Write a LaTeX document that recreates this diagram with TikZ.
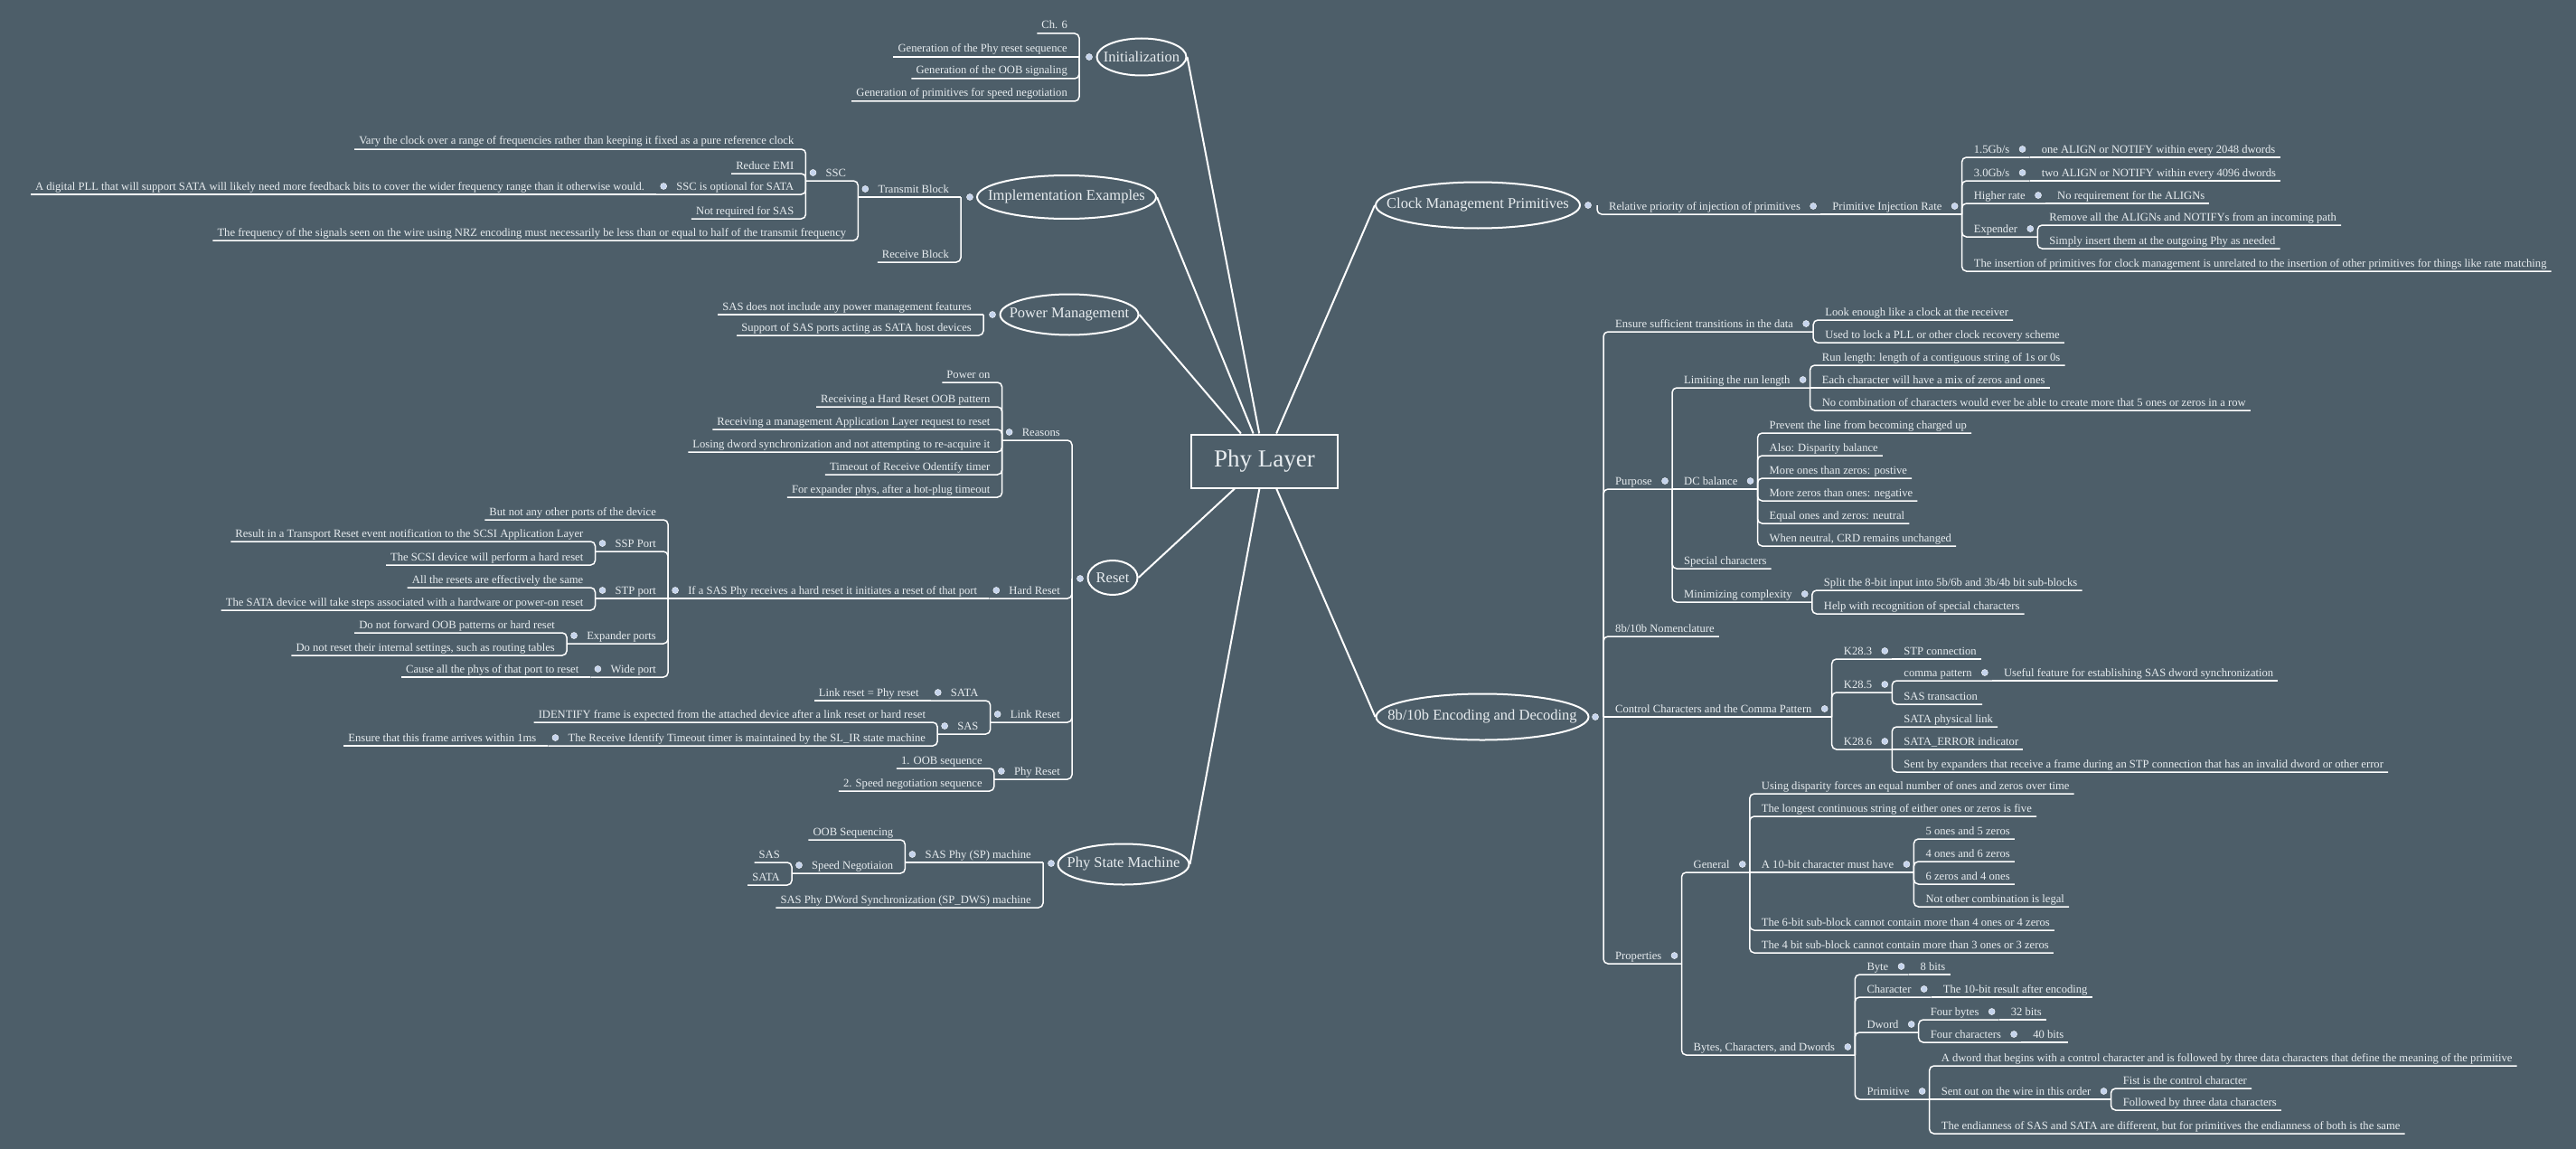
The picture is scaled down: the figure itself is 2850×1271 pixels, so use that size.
\documentclass[tikz,border=0pt]{standalone}
\usepackage{fontspec}
\setmainfont{Liberation Serif}
\usetikzlibrary{shapes.geometric,calc}
\definecolor{bg}{HTML}{4D5E69}
\definecolor{txt}{HTML}{E8EDF0}
\definecolor{dotc}{HTML}{C4D3EC}
\newcommand\setY[2]{\expandafter\def\csname yv@#1\endcsname{#2}}
\newcommand\Mconn[3]{\coordinate (tmp) at (0,#2);%
 \ifdim\csname yv@#1\endcsname pt=#2pt \draw[ul] (#1-j) -- #3;%
 \else \draw[ul] (#1-j) -- (#1-j |- tmp) -- #3;\fi}
% right leaf / intermediate
\newcommand\RL[4]{\coordinate (tmp) at (0,#3);%
 \node[lbl,anchor=base west] (#1) at ($(#2-j |- tmp)+(12pt,5pt)$) {#4};%
 \Mconn{#2}{#3}{($(#1.east |- tmp)+(4pt,0)$)}}
\newcommand\RI[4]{\coordinate (tmp) at (0,#3);%
 \node[lbl,anchor=base west] (#1) at ($(#2-j |- tmp)+(12pt,5pt)$) {#4};%
 \coordinate (#1-j) at ($(#1.east |- tmp)+(21pt,0)$);%
 \node[dotst] (#1-d) at ($(#1.east |- tmp)+(13pt,9pt)$) {};%
 \Mconn{#2}{#3}{(#1-j)}\setY{#1}{#3}}
% left leaf / intermediate
\newcommand\LL[4]{\coordinate (tmp) at (0,#3);%
 \node[lbl,anchor=base east] (#1) at ($(#2-j |- tmp)+(-12pt,5pt)$) {#4};%
 \Mconn{#2}{#3}{($(#1.west |- tmp)+(-4pt,0)$)}}
\newcommand\LI[4]{\coordinate (tmp) at (0,#3);%
 \node[lbl,anchor=base east] (#1) at ($(#2-j |- tmp)+(-12pt,5pt)$) {#4};%
 \coordinate (#1-j) at ($(#1.west |- tmp)+(-21pt,0)$);%
 \node[dotst] (#1-d) at ($(#1.west |- tmp)+(-13pt,9pt)$) {};%
 \Mconn{#2}{#3}{(#1-j)}\setY{#1}{#3}}
\tikzset{
 lbl/.style={text=txt,font=\fontsize{12.6}{14}\selectfont,inner sep=1pt},
 ul/.style={draw=white,line width=1.5pt,rounded corners=5pt},
 ml/.style={draw=white,line width=2pt},
 dotst/.style={circle,fill=dotc,draw=white!80!dotc,line width=0.5pt,inner sep=0pt,minimum size=7pt},
 ell/.style={ellipse,draw=white,line width=2pt,inner sep=0pt},
 etxt/.style={text=txt,font=\fontsize{16.5}{18}\selectfont,inner sep=0pt},
}
\begin{document}
\begin{tikzpicture}[x=1pt,y=-1pt]
\fill[bg] (0,0) rectangle (2850,1271);
\useasboundingbox (0,0) rectangle (2850,1271);
% central
\node[draw=white,line width=2pt,fill=bg,minimum width=162pt,minimum height=59pt,inner sep=0pt,text=txt,font=\fontsize{27}{30}\selectfont] (phy) at (1399,510) {Phy Layer};
% main ellipses
\node[ell,minimum width=99pt,minimum height=41pt] (init) at (1263,63) {};
\node[etxt] (initt) at (init) {Initialization};
\node[ell,minimum width=198pt,minimum height=48pt] (impl) at (1180,218) {};
\node[etxt] (implt) at (impl) {Implementation Examples};
\node[ell,minimum width=153pt,minimum height=45pt] (power) at (1183,348) {};
\node[etxt] (powert) at (power) {Power Management};
\node[ell,minimum width=55pt,minimum height=38pt] (reset) at (1231,639) {};
\node[etxt] (resett) at (reset) {Reset};
\node[ell,minimum width=145pt,minimum height=45pt] (psm) at (1243,956) {};
\node[etxt] (psmt) at (psm) {Phy State Machine};
\node[ell,minimum width=226pt,minimum height=51pt] (clock) at (1635,227) {};
\node[etxt] (clockt) at (clock) {Clock Management Primitives};
\node[ell,minimum width=235pt,minimum height=51pt] (enc) at (1640,793) {};
\node[etxt] (enct) at (enc) {8b/10b Encoding and Decoding};
\draw[ml] (phy) -- (init.east);
\draw[ml] (phy) -- (impl.east);
\draw[ml] (phy) -- (power.east);
\draw[ml] (phy) -- (reset.east);
\draw[ml] (phy) -- (psm.east);
\draw[ml] (phy) -- (clock.west);
\draw[ml] (phy) -- (enc.west);
% junctions and dots of main nodes
\coordinate (init-j) at (1194,63); \setY{init}{63} \node[dotst] (initd) at (1205,63) {};
\coordinate (impl-j) at (1063,218); \setY{impl}{218} \node[dotst] (impld) at (1073,218) {};
\coordinate (power-j) at (1088,348); \setY{power}{348} \node[dotst] (powerd) at (1098,348) {};
\coordinate (reset-j) at (1186,640); \setY{reset}{640} \node[dotst] (resetd) at (1195,640) {};
\coordinate (psm-j) at (1154,954); \setY{psm}{954} \node[dotst] (psmd) at (1163,955) {};
\coordinate (clock-j) at (1767,227); \setY{clock}{227} \node[dotst] (clockd) at (1757,227) {};
\coordinate (enc-j) at (1774,793); \setY{enc}{793} \node[dotst] (encd) at (1765,793) {};
% Initialization
\LL{i1}{init}{37}{Ch. 6}
\LL{i2}{init}{63}{Generation of the Phy reset sequence}
\LL{i3}{init}{87}{Generation of the OOB signaling}
\LL{i4}{init}{112}{Generation of primitives for speed negotiation}
% Implementation
\LI{tb}{impl}{218}{Transmit Block}
\LI{ssc}{tb}{200}{SSC}
\LL{ssc1}{ssc}{165}{Vary the clock over a range of frequencies rather than keeping it fixed as a pure reference clock}
\LL{ssc2}{ssc}{192}{Reduce EMI}
\LI{ssc3}{ssc}{215}{SSC is optional for SATA}
\LL{ssc3a}{ssc3}{215}{A digital PLL that will support SATA will likely need more feedback bits to cover the wider frequency range than it otherwise would.}
\LL{ssc4}{ssc}{242}{Not required for SAS}
\LL{tb2}{tb}{266}{The frequency of the signals seen on the wire using NRZ encoding must necessarily be less than or equal to half of the transmit frequency}
\LL{rb}{impl}{290}{Receive Block}
% Power
\LL{pw1}{power}{348}{SAS does not include any power management features}
\LL{pw2}{power}{371}{Support of SAS ports acting as SATA host devices}
% Reset
\LI{rea}{reset}{487}{Reasons}
\LL{rea1}{rea}{423}{Power on}
\LL{rea2}{rea}{450}{Receiving a Hard Reset OOB pattern}
\LL{rea3}{rea}{475}{Receiving a management Application Layer request to reset}
\LL{rea4}{rea}{500}{Losing dword synchronization and not attempting to re-acquire it}
\LL{rea5}{rea}{525}{Timeout of Receive Odentify timer}
\LL{rea6}{rea}{550}{For expander phys, after a hot-plug timeout}
\LI{hr}{reset}{662}{Hard Reset}
\LI{hra}{hr}{662}{If a SAS Phy receives a hard reset it initiates a reset of that port}
\LL{hr1}{hra}{575}{But not any other ports of the device}
\LI{ssp}{hra}{610}{SSP Port}
\LL{ssp1}{ssp}{599}{Result in a Transport Reset event notification to the SCSI Application Layer}
\LL{ssp2}{ssp}{625}{The SCSI device will perform a hard reset}
\LI{stp}{hra}{662}{STP port}
\LL{stp1}{stp}{650}{All  the resets are effectively the same}
\LL{stp2}{stp}{675}{The SATA device will take steps associated with a hardware or power-on reset}
\LI{exp}{hra}{712}{Expander ports}
\LL{exp1}{exp}{700}{Do not forward OOB patterns or hard reset}
\LL{exp2}{exp}{725}{Do not reset their internal settings, such as routing tables}
\LI{wp}{hra}{749}{Wide port}
\LL{wp1}{wp}{749}{Cause all the phys of that port to reset}
\LI{lr}{reset}{799}{Link Reset}
\LI{lsata}{lr}{775}{SATA}
\LL{lsata1}{lsata}{775}{Link reset  = Phy reset}
\LI{lsas}{lr}{812}{SAS}
\LL{lsas1}{lsas}{799}{IDENTIFY frame is expected from the attached device after a link reset or hard reset}
\LI{lsas2}{lsas}{825}{The Receive Identify Timeout timer is maintained by the SL\_IR state machine}
\LL{lsas2a}{lsas2}{825}{Ensure that this frame arrives within 1ms}
\LI{pr}{reset}{862}{Phy Reset}
\LL{pr1}{pr}{850}{1. OOB sequence}
\LL{pr2}{pr}{875}{2. Speed negotiation sequence}
% Phy State Machine
\LI{sp}{psm}{954}{SAS Phy (SP) machine}
\LL{sp1}{sp}{929}{OOB Sequencing}
\LI{sn}{sp}{966}{Speed Negotiaion}
\LL{sn1}{sn}{954}{SAS}
\LL{sn2}{sn}{979}{SATA}
\LL{dws}{psm}{1004}{SAS Phy DWord Synchronization (SP\_DWS) machine}
% Clock Management
\RI{rp}{clock}{237}{Relative priority of injection of primitives}
\RI{pir}{rp}{237}{Primitive Injection Rate}
\RI{r15}{pir}{174}{1.5Gb/s}
\RL{r15a}{r15}{174}{one ALIGN or NOTIFY within every 2048 dwords}
\RI{r30}{pir}{200}{3.0Gb/s}
\RL{r30a}{r30}{200}{two ALIGN or NOTIFY within every 4096 dwords}
\RI{rhi}{pir}{225}{Higher rate}
\RL{rhia}{rhi}{225}{No requirement for the ALIGNs}
\RI{rex}{pir}{262}{Expender}
\RL{rex1}{rex}{249}{Remove all the ALIGNs and NOTIFYs from an incoming path}
\RL{rex2}{rex}{275}{Simply insert them at the outgoing Phy as needed}
\RL{rins}{pir}{300}{The insertion of primitives for clock management is unrelated to the insertion of other primitives for things like rate matching}
% 8b/10b
\RI{ens}{enc}{367}{Ensure sufficient transitions in the data}
\RL{ens1}{ens}{354}{Look enough like a clock at the receiver}
\RL{ens2}{ens}{379}{Used to lock a PLL or other clock recovery scheme}
\RI{pur}{enc}{541}{Purpose}
\RI{lim}{pur}{429}{Limiting the run length}
\RL{lim1}{lim}{404}{Run length: length of a contiguous string of 1s or 0s}
\RL{lim2}{lim}{429}{Each character will have a mix of zeros and ones}
\RL{lim3}{lim}{454}{No combination of characters would ever be able to create more that 5 ones or zeros in a row}
\RI{dc}{pur}{541}{DC balance}
\RL{dc1}{dc}{479}{Prevent the line from becoming charged up}
\RL{dc2}{dc}{504}{Also: Disparity balance}
\RL{dc3}{dc}{529}{More ones than zeros: postive}
\RL{dc4}{dc}{554}{More zeros than ones: negative}
\RL{dc5}{dc}{579}{Equal ones and zeros: neutral}
\RL{dc6}{dc}{604}{When neutral, CRD remains unchanged}
\RL{spc}{pur}{629}{Special characters}
\RI{mc}{pur}{666}{Minimizing complexity}
\RL{mc1}{mc}{653}{Split the 8-bit input into 5b/6b and 3b/4b bit sub-blocks}
\RL{mc2}{mc}{679}{Help with recognition of special characters}
\RL{nom}{enc}{704}{8b/10b Nomenclature}
\RI{cc}{enc}{793}{Control Characters and the Comma Pattern}
\RI{k3}{cc}{729}{K28.3}
\RL{k3a}{k3}{729}{STP connection}
\RI{k5}{cc}{766}{K28.5}
\RI{k5a}{k5}{753}{comma pattern}
\RL{k5aa}{k5a}{753}{Useful feature for establishing SAS dword synchronization}
\RL{k5b}{k5}{779}{SAS transaction}
\RI{k6}{cc}{829}{K28.6}
\RL{k6a}{k6}{804}{SATA physical link}
\RL{k6b}{k6}{829}{SATA\_ERROR indicator}
\RL{k6c}{k6}{854}{Sent by expanders that receive a frame during an STP connection that has an invalid dword or other error}
\RI{prop}{enc}{1066}{Properties}
\RI{gen}{prop}{965}{General}
\RL{gen1}{gen}{878}{Using disparity forces an equal number of ones and zeros over time}
\RL{gen2}{gen}{903}{The longest continuous string of either ones or zeros is five}
\RI{gen3}{gen}{965}{A 10-bit character must have}
\RL{g31}{gen3}{928}{5 ones and 5 zeros}
\RL{g32}{gen3}{953}{4 ones and 6 zeros}
\RL{g33}{gen3}{978}{6 zeros and 4 ones}
\RL{g34}{gen3}{1003}{Not other combination is legal}
\RL{gen4}{gen}{1029}{The 6-bit sub-block cannot contain more than 4 ones or 4 zeros}
\RL{gen5}{gen}{1054}{The 4 bit sub-block cannot contain more than 3 ones or 3 zeros}
\RI{bcd}{prop}{1167}{Bytes, Characters, and Dwords}
\RI{byte}{bcd}{1078}{Byte}
\RL{bytea}{byte}{1078}{8 bits}
\RI{chr}{bcd}{1103}{Character}
\RL{chra}{chr}{1103}{The 10-bit result after encoding}
\RI{dw}{bcd}{1142}{Dword}
\RI{dw1}{dw}{1128}{Four bytes}
\RL{dw1a}{dw1}{1128}{32 bits}
\RI{dw2}{dw}{1153}{Four characters}
\RL{dw2a}{dw2}{1153}{40 bits}
\RI{prim}{bcd}{1216}{Primitive}
\RL{prim1}{prim}{1179}{A dword that begins with a control character and is followed by three data characters that define the meaning of the primitive}
\RI{prim2}{prim}{1216}{Sent out on the wire in this order}
\RL{p21}{prim2}{1204}{Fist is the control character}
\RL{p22}{prim2}{1228}{Followed by three data characters}
\RL{prim3}{prim}{1254}{The endianness of SAS and SATA are different, but for primitives the endianness of both is the same}
\end{tikzpicture}
\end{document}
